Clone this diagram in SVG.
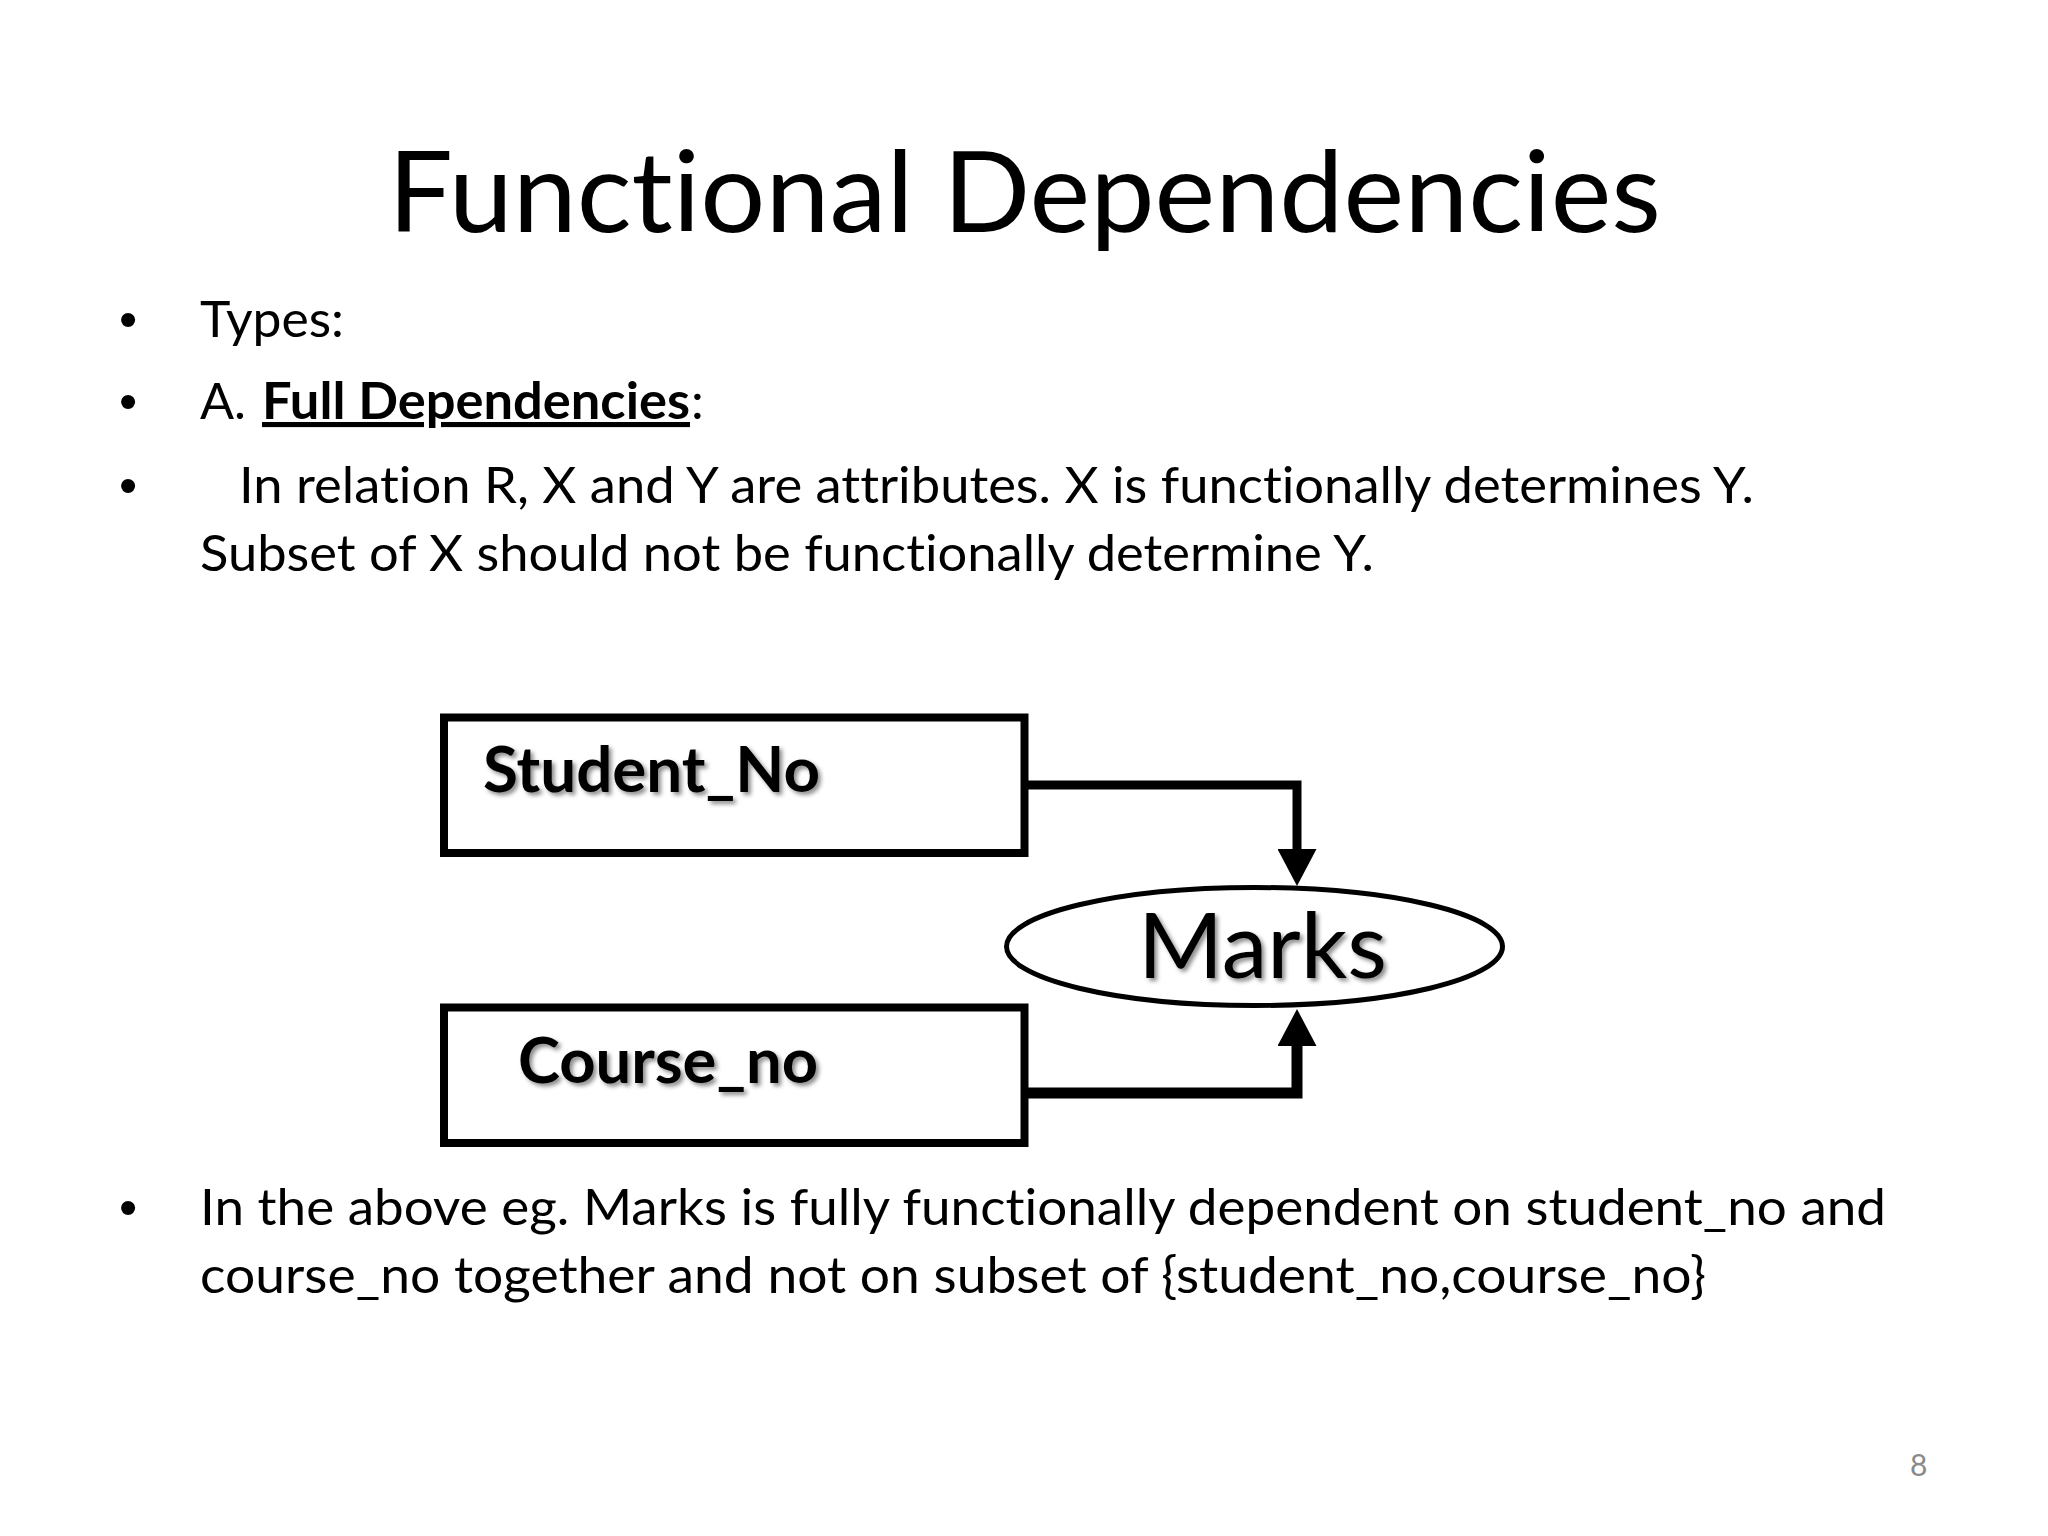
<svg xmlns="http://www.w3.org/2000/svg" width="2048" height="1536" viewBox="0 0 2048 1536">
<style>
text{font-variant-ligatures:none;font-feature-settings:"liga" 0,"clig" 0}
.t{font-family:Lato,"Open Sans","Liberation Sans",sans-serif;fill:#000}
.body{font-size:51px}
.title{font-size:112px}
.blt{font-family:"Liberation Sans",sans-serif;font-size:52px;fill:#000}
.lbl{font-family:Lato,"Open Sans","Liberation Sans",sans-serif;font-weight:bold;font-size:63px;fill:#000}
.box{fill:#fff;stroke:#000;stroke-width:8}
.conn{fill:none;stroke:#000;stroke-linejoin:miter}
</style>
<defs>
<filter id="sh" x="-10%" y="-20%" width="130%" height="150%">
<feDropShadow dx="3" dy="3" stdDeviation="2" flood-color="#000" flood-opacity="0.45"/>
</filter>
<marker id="ah" viewBox="0 0 37 39" refX="0" refY="19.5" markerWidth="37" markerHeight="39" markerUnits="userSpaceOnUse" orient="auto">
<path d="M0,0 L37,19.5 L0,39 z" fill="#000"/>
</marker>
</defs>
<rect width="2048" height="1536" fill="#fff"/>
<text class="t title" x="388" y="232" textLength="1273" lengthAdjust="spacingAndGlyphs">Functional Dependencies</text>
<g id="bullets">
<text class="blt" x="119" y="337">•</text>
<text class="blt" x="119" y="419">•</text>
<text class="blt" x="119" y="503">•</text>
<text class="blt" x="119" y="1225">•</text>
</g>
<text class="t body" x="200" y="337" textLength="144" lengthAdjust="spacingAndGlyphs">Types:</text>
<text class="t body" x="200" y="419" textLength="46" lengthAdjust="spacingAndGlyphs">A.</text>
<text class="t body" x="262" y="419" font-weight="bold" text-decoration="underline" textLength="428" lengthAdjust="spacingAndGlyphs">Full Dependencies</text>
<text class="t body" x="691" y="419">:</text>
<text class="t body" x="239" y="503" textLength="1515" lengthAdjust="spacingAndGlyphs">In relation R, X and Y are attributes. X is functionally determines Y.</text>
<text class="t body" x="200" y="571" textLength="1174" lengthAdjust="spacingAndGlyphs">Subset of X should not be functionally determine Y.</text>
<text class="t body" x="200" y="1225" textLength="1686" lengthAdjust="spacingAndGlyphs">In the above eg. Marks is fully functionally dependent on student_no and</text>
<text class="t body" x="200" y="1293" textLength="1506" lengthAdjust="spacingAndGlyphs">course_no together and not on subset of {student_no,course_no}</text>
<g id="connectors">
<path class="conn" stroke-width="9" d="M1028,785 H1297 V849" marker-end="url(#ah)"/>
<path class="conn" stroke-width="11" d="M1028,1093 H1297 V1046" marker-end="url(#ah)"/>
</g>
<g id="student_no">
<rect class="box" x="444" y="717.5" width="580.5" height="135.5"/>
<text class="lbl" x="483" y="792" textLength="337" lengthAdjust="spacingAndGlyphs" filter="url(#sh)">Student_No</text>
</g>
<g id="course_no">
<rect class="box" x="444" y="1007.5" width="580.5" height="135.5"/>
<text class="lbl" x="518" y="1083" textLength="300" lengthAdjust="spacingAndGlyphs" filter="url(#sh)">Course_no</text>
</g>
<g id="marks">
<ellipse cx="1254.5" cy="946.5" rx="248" ry="59" fill="#fff" stroke="#000" stroke-width="5"/>
<text class="t" x="1138" y="978" font-size="92" textLength="249" lengthAdjust="spacingAndGlyphs" filter="url(#sh)">Marks</text>
</g>
<text x="1910" y="1476" font-family="Lato,'Liberation Sans',sans-serif" font-size="30" fill="#8a8a8a">8</text>
</svg>
